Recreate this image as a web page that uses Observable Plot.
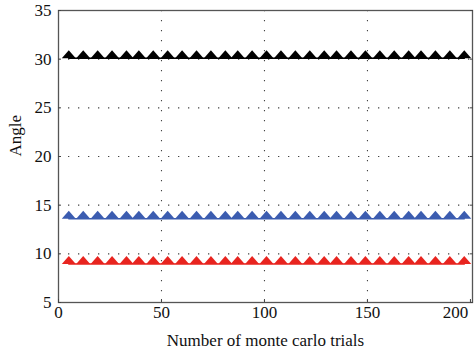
<!DOCTYPE html>
<html>
<head>
<meta charset="utf-8">
<script src="https://cdn.jsdelivr.net/npm/d3@7"></script>
<script src="https://cdn.jsdelivr.net/npm/@observablehq/plot@0.6"></script>
<style>
  html, body { margin: 0; padding: 0; background: #fff; }
  #chart { width: 474px; height: 353px; }
</style>
</head>
<body>
<div id="chart"></div>
<script>
const trials = [5, 12, 19, 26, 33, 39, 46, 53, 60, 67, 74, 81, 87, 94, 101, 108, 115, 122, 129, 135, 142, 149, 156, 163, 170, 176, 183, 190, 197];
const topAngles = [30.1, 30.1, 30.1, 30.1, 30.1, 30.1, 30.1, 30.1, 30.1, 30.1, 30.1, 30.1, 30.1, 30.1, 30.1, 30.1, 30.1, 30.1, 30.1, 30.1, 30.1, 30.1, 30.1, 30.1, 30.1, 30.1, 30.1, 30.1, 30.1];
const midAngles = [13.6, 13.6, 13.6, 13.6, 13.6, 13.6, 13.6, 13.6, 13.6, 13.6, 13.6, 13.6, 13.6, 13.6, 13.6, 13.6, 13.6, 13.6, 13.6, 13.6, 13.6, 13.6, 13.6, 13.6, 13.6, 13.6, 13.6, 13.6, 13.6];
const lowAngles = [8.95, 8.95, 8.95, 8.95, 8.95, 8.95, 8.95, 8.95, 8.95, 8.95, 8.95, 8.95, 8.95, 8.95, 8.95, 8.95, 8.95, 8.95, 8.95, 8.95, 8.95, 8.95, 8.95, 8.95, 8.95, 8.95, 8.95, 8.95, 8.95];
const seriesNames = ["Series A", "Series B", "Series C"];
const seriesColors = ["#000000", "#3b5cb0", "#e8241f"];
const xTicks = [0, 50, 100, 150, 200];
const yTicks = [5, 10, 15, 20, 25, 30, 35];
const xLabel = "Number of monte carlo trials";
const yLabel = "Angle";

const seriesValues = [topAngles, midAngles, lowAngles];
const data = [];
seriesNames.forEach((name, s) => {
  trials.forEach((t, i) => data.push({series: name, trial: t, angle: seriesValues[s][i]}));
});

// flat triangle whose base sits on the data point
const baseTriangle = {
  draw(context, size) {
    const r = Math.sqrt(size / Math.PI);
    const w = r * 1.0, h = r * 1.15;
    context.moveTo(-w, 0);
    context.lineTo(0, -h);
    context.lineTo(w, 0);
    context.closePath();
  }
};

const font = "'Liberation Serif', 'DejaVu Serif', serif";
const plot = Plot.plot({
  width: 474,
  height: 353,
  marginLeft: 58,
  marginRight: 2,
  marginTop: 10,
  marginBottom: 51,
  style: {fontFamily: font, fontSize: "17px", color: "#111", background: "#fff"},
  x: {domain: [0, 201]},
  y: {domain: [5, 35]},
  color: {domain: seriesNames, range: seriesColors},
  marks: [
    Plot.gridX(xTicks.slice(1, -1), {stroke: "#444", strokeOpacity: 1, strokeWidth: 1.1, strokeDasharray: "1.3,8.7"}),
    Plot.gridY(yTicks.slice(1, -1), {stroke: "#444", strokeOpacity: 1, strokeWidth: 1.1, strokeDasharray: "1.3,8.7"}),
    Plot.frame({stroke: "#555", strokeWidth: 1.3}),
    Plot.axisY(yTicks, {anchor: "left", tickSize: 3, dx: 3, text: null, label: null, stroke: "#444"}),
    Plot.axisY(yTicks, {anchor: "right", tickSize: 3, dx: -3, text: null, label: null, stroke: "#444"}),
    Plot.axisX(xTicks, {anchor: "bottom", tickSize: 3, dy: -3, text: null, label: null, stroke: "#444"}),
    Plot.axisY(yTicks, {anchor: "left", tickSize: 0, tickPadding: 7, label: null, fontSize: 17, fill: "#111"}),
    Plot.axisX(xTicks.slice(0, -1), {anchor: "bottom", tickSize: 0, tickPadding: 3, label: null, fontSize: 17, fill: "#111"}),
    Plot.axisX(xTicks.slice(-1), {anchor: "bottom", tickSize: 0, tickPadding: 3, dx: -15, label: null, fontSize: 17, fill: "#111"}),
    Plot.text([xLabel], {frameAnchor: "bottom", dy: 38, fontSize: 17, fill: "#111", lineAnchor: "middle"}),
    Plot.text([yLabel], {frameAnchor: "left", dx: -43, rotate: -90, fontSize: 17, fill: "#111"}),
    Plot.line(data, {x: "trial", y: "angle", z: "series", stroke: "series", strokeWidth: 1.6}),
    Plot.dot(data, {x: "trial", y: "angle", fill: "series", stroke: "none", symbol: baseTriangle, r: 7})
  ]
});
document.getElementById("chart").appendChild(plot);
</script>
</body>
</html>
